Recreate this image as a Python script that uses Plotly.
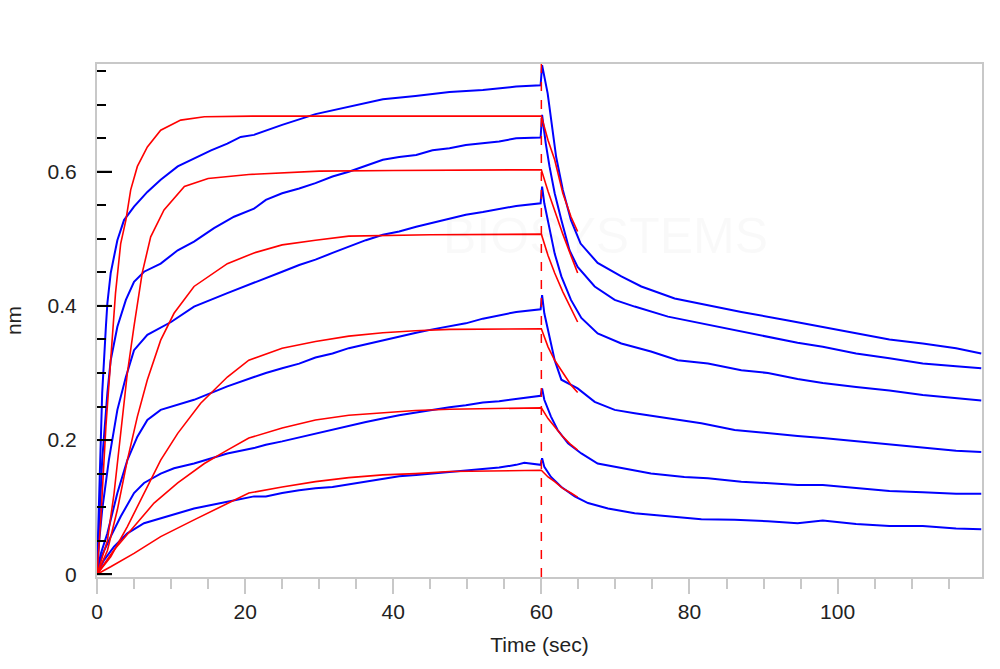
import plotly.graph_objects as go

# ---------------- data ----------------
STEP_TIME = 60  # association -> dissociation switch (sec)

# Measured (blue) sensorgrams: association phase
b1_at = [0, 0.3, 0.7, 1.2, 1.4, 1.85, 2.75, 3.65, 5.0, 6.8, 8.6, 10.9, 13.1, 15.4, 17.6, 19.4, 21.2, 25.0, 29.5, 34.0, 38.6, 43.0, 47.6, 52.1, 56.6, 59.9]
b1_av = [0.005, 0.12, 0.27, 0.369, 0.404, 0.449, 0.498, 0.528, 0.548, 0.570, 0.588, 0.608, 0.620, 0.632, 0.642, 0.652, 0.655, 0.670, 0.686, 0.697, 0.708, 0.713, 0.719, 0.722, 0.727, 0.729]
b1_dt = [60.1, 60.85, 61.5, 62.0, 62.9, 64.0, 65.3, 67.6, 70.8, 73.5, 78.0, 82.5, 87.0, 93.5, 98.0, 102.5, 107.0, 111.5, 116.0, 119.4]
b1_dv = [0.759, 0.717, 0.667, 0.622, 0.573, 0.528, 0.493, 0.464, 0.444, 0.429, 0.411, 0.401, 0.391, 0.378, 0.369, 0.359, 0.350, 0.344, 0.337, 0.329]

b2_at = [0, 0.3, 0.7, 1.4, 1.85, 2.75, 3.9, 5.0, 6.35, 8.6, 10.9, 13.1, 15.8, 18.5, 21.2, 22.8, 25.0, 27.3, 29.5, 31.8, 34.0, 36.3, 38.6, 40.8, 43.1, 45.3, 47.6, 49.8, 52.1, 54.3, 56.6, 59.9]
b2_av = [0.004, 0.08, 0.17, 0.270, 0.319, 0.369, 0.409, 0.436, 0.451, 0.463, 0.483, 0.496, 0.516, 0.533, 0.545, 0.558, 0.568, 0.575, 0.583, 0.593, 0.600, 0.609, 0.618, 0.622, 0.625, 0.632, 0.635, 0.640, 0.642, 0.645, 0.650, 0.651]
b2_dt = [60.1, 60.6, 61.1, 61.8, 62.7, 63.8, 64.9, 67.2, 69.9, 72.6, 77.1, 81.6, 86.1, 90.6, 94.6, 98.0, 102.5, 107.0, 111.5, 116.0, 119.4]
b2_dv = [0.685, 0.642, 0.608, 0.568, 0.528, 0.483, 0.458, 0.429, 0.409, 0.399, 0.384, 0.374, 0.364, 0.354, 0.345, 0.339, 0.329, 0.322, 0.314, 0.310, 0.307]

b3_at = [0, 0.3, 0.7, 1.6, 2.75, 3.9, 5.0, 6.8, 10.0, 13.1, 17.6, 21.2, 22.8, 25.0, 27.3, 29.5, 31.8, 34.0, 36.3, 38.6, 40.8, 43.1, 45.3, 47.6, 49.8, 52.1, 54.3, 56.6, 59.9]
b3_av = [0.003, 0.05, 0.096, 0.170, 0.245, 0.294, 0.334, 0.357, 0.376, 0.399, 0.419, 0.434, 0.441, 0.451, 0.461, 0.469, 0.479, 0.488, 0.498, 0.506, 0.511, 0.518, 0.524, 0.531, 0.536, 0.540, 0.544, 0.549, 0.553]
b3_dt = [60.1, 60.4, 61.1, 61.8, 62.7, 64.0, 65.4, 67.6, 70.8, 74.8, 78.4, 82.5, 87.0, 90.6, 94.6, 98.0, 102.5, 107.0, 111.5, 116.0, 119.4]
b3_dv = [0.578, 0.553, 0.518, 0.478, 0.444, 0.409, 0.382, 0.359, 0.344, 0.332, 0.319, 0.314, 0.304, 0.300, 0.291, 0.285, 0.279, 0.274, 0.267, 0.262, 0.259]

b4_at = [0, 0.5, 1.4, 2.75, 4.1, 5.45, 6.8, 8.6, 13.1, 17.6, 21.2, 22.8, 25.0, 27.3, 29.5, 31.8, 34.0, 36.3, 38.6, 40.8, 43.1, 45.3, 47.6, 49.8, 52.1, 54.3, 56.6, 59.9]
b4_av = [0.002, 0.03, 0.061, 0.121, 0.170, 0.205, 0.230, 0.245, 0.260, 0.280, 0.294, 0.300, 0.307, 0.314, 0.323, 0.329, 0.337, 0.343, 0.349, 0.355, 0.360, 0.365, 0.370, 0.374, 0.381, 0.386, 0.391, 0.395]
b4_dt = [60.1, 60.4, 61.1, 61.8, 62.7, 64.9, 67.2, 69.9, 72.6, 77.1, 81.6, 86.1, 90.6, 94.6, 98.0, 102.5, 107.0, 111.5, 116.0, 119.4]
b4_dv = [0.416, 0.389, 0.354, 0.319, 0.290, 0.277, 0.257, 0.245, 0.240, 0.232, 0.225, 0.215, 0.210, 0.206, 0.203, 0.198, 0.193, 0.189, 0.184, 0.182]

b5_at = [0, 0.7, 1.85, 3.2, 5.0, 6.35, 8.6, 10.4, 13.1, 17.6, 21.2, 22.8, 25.0, 27.3, 29.5, 31.8, 34.0, 36.3, 38.6, 40.8, 43.1, 45.3, 47.6, 49.8, 52.1, 54.3, 56.6, 59.9]
b5_av = [0.002, 0.029, 0.056, 0.086, 0.121, 0.136, 0.150, 0.158, 0.165, 0.180, 0.188, 0.193, 0.198, 0.204, 0.210, 0.216, 0.221, 0.227, 0.232, 0.237, 0.241, 0.245, 0.249, 0.252, 0.256, 0.258, 0.261, 0.266]
b5_dt = [60.1, 60.4, 61.3, 62.2, 63.6, 65.4, 67.6, 70.8, 74.8, 79.3, 82.5, 87.0, 94.6, 98.0, 102.5, 107.0, 111.5, 116.0, 119.4]
b5_dv = [0.277, 0.260, 0.235, 0.215, 0.195, 0.180, 0.165, 0.158, 0.150, 0.145, 0.143, 0.138, 0.133, 0.133, 0.128, 0.124, 0.122, 0.120, 0.120]

b6_at = [0, 0.95, 2.3, 4.1, 6.35, 9.5, 13.1, 17.6, 21.2, 22.8, 25.0, 27.3, 29.5, 31.8, 34.0, 36.3, 38.6, 40.8, 43.1, 45.3, 47.6, 49.8, 52.1, 54.3, 56.6, 57.7, 59.9]
b6_av = [0.001, 0.021, 0.041, 0.061, 0.076, 0.086, 0.098, 0.108, 0.116, 0.116, 0.121, 0.125, 0.128, 0.130, 0.134, 0.138, 0.143, 0.146, 0.148, 0.150, 0.153, 0.155, 0.156, 0.159, 0.163, 0.166, 0.163]
b6_dt = [60.1, 60.4, 61.3, 62.7, 64.5, 66.3, 69.0, 72.6, 77.1, 81.6, 86.1, 90.6, 94.6, 98.0, 102.5, 107.0, 111.5, 116.0, 119.4]
b6_dv = [0.173, 0.160, 0.145, 0.130, 0.116, 0.106, 0.098, 0.091, 0.086, 0.082, 0.081, 0.079, 0.076, 0.080, 0.075, 0.072, 0.072, 0.068, 0.067]

# Fitted (red) curves: association phase
r1_at = [0, 0.5, 1.2, 1.85, 2.5, 3.2, 3.9, 4.55, 5.45, 6.8, 8.6, 11.3, 14.5, 21.0, 30.0, 40.0, 50.0, 60.0]
r1_av = [0, 0.08, 0.22, 0.319, 0.419, 0.493, 0.528, 0.573, 0.608, 0.637, 0.662, 0.677, 0.682, 0.683, 0.683, 0.683, 0.683, 0.683]
r2_at = [0, 1.4, 2.3, 3.2, 4.1, 5.0, 6.1, 7.25, 9.05, 11.8, 15.0, 20.5, 30.0, 40.0, 50.0, 60.0]
r2_av = [0, 0.05, 0.12, 0.21, 0.30, 0.37, 0.449, 0.503, 0.543, 0.578, 0.590, 0.596, 0.601, 0.602, 0.602, 0.603]
r3_at = [0, 1.4, 2.75, 4.1, 5.45, 6.8, 8.6, 10.4, 13.1, 17.6, 21.2, 25.0, 29.5, 34.0, 45.0, 60.0]
r3_av = [0, 0.035, 0.096, 0.170, 0.235, 0.290, 0.349, 0.389, 0.429, 0.463, 0.479, 0.491, 0.498, 0.504, 0.506, 0.507]
r4_at = [0, 1.85, 4.1, 6.35, 8.6, 10.9, 14.0, 17.6, 20.5, 25.0, 29.5, 34.0, 38.6, 43.0, 47.6, 60.0]
r4_av = [0, 0.026, 0.071, 0.121, 0.170, 0.210, 0.255, 0.294, 0.319, 0.337, 0.347, 0.355, 0.360, 0.363, 0.365, 0.366]
r5_at = [0, 2.3, 5.0, 7.7, 10.9, 14.5, 17.6, 20.5, 25.0, 29.5, 34.0, 38.6, 43.0, 47.6, 60.0]
r5_av = [0, 0.036, 0.071, 0.106, 0.136, 0.165, 0.185, 0.203, 0.218, 0.230, 0.237, 0.241, 0.244, 0.246, 0.248]
r6_at = [0, 1.85, 5.0, 8.6, 13.1, 17.6, 20.5, 25.0, 29.5, 34.0, 38.6, 43.0, 47.6, 60.0]
r6_av = [0, 0.011, 0.031, 0.056, 0.081, 0.106, 0.121, 0.130, 0.138, 0.144, 0.148, 0.150, 0.153, 0.155]

# Fitted (red) curves: start of dissociation phase
r_dt = [60.9, 61.8, 62.9, 64.0, 64.9]
r1_dv = [0.647, 0.618, 0.568, 0.533, 0.511]
r2_dv = [0.571, 0.541, 0.507, 0.475, 0.449]
r3_dv = [0.475, 0.449, 0.421, 0.397, 0.376]
r4_dv = [0.339, 0.319, 0.300, 0.282, 0.271]
r5_dv = [0.232, 0.220, 0.205, 0.193, 0.185]
r6_dv = [0.145, 0.138, 0.128, 0.121, 0.115]

X_TICK_MAJOR = 20
X_TICK_MINOR = 5
Y_TICK_MAJOR = 0.2
Y_TICK_MINOR = 0.05
Y_MAJOR_TICKS = [0, 0.2, 0.4, 0.6]
X_RANGE = [0, 119.5]
Y_RANGE = [-0.0042, 0.7607]

blue_sets = [
    (b1_at, b1_av, b1_dt, b1_dv),
    (b2_at, b2_av, b2_dt, b2_dv),
    (b3_at, b3_av, b3_dt, b3_dv),
    (b4_at, b4_av, b4_dt, b4_dv),
    (b5_at, b5_av, b5_dt, b5_dv),
    (b6_at, b6_av, b6_dt, b6_dv),
]
red_sets = [
    (r1_at, r1_av, r1_dv),
    (r2_at, r2_av, r2_dv),
    (r3_at, r3_av, r3_dv),
    (r4_at, r4_av, r4_dv),
    (r5_at, r5_av, r5_dv),
    (r6_at, r6_av, r6_dv),
]

BLUE = "#0000FF"
RED = "#FF0000"
GRAY = "#c8c8c8"
FONT = "Liberation Sans, Arial, sans-serif"

fig = go.Figure()

for at, av, dt, dv in blue_sets:
    fig.add_trace(go.Scatter(x=at + dt, y=av + dv, mode="lines",
                             line=dict(color=BLUE, width=2), showlegend=False,
                             hoverinfo="skip"))

for at, av, dv in red_sets:
    fig.add_trace(go.Scatter(x=at + r_dt, y=av + dv, mode="lines",
                             line=dict(color=RED, width=1.6), showlegend=False,
                             hoverinfo="skip"))

# dashed vertical marker at the phase switch
fig.add_shape(type="line", xref="x", yref="paper", x0=STEP_TIME, x1=STEP_TIME,
              y0=0, y1=1, line=dict(color=RED, width=1.5, dash="dash"), layer="above")

# longer inward major ticks on the y axis (15 px from the axis line)
for v in Y_MAJOR_TICKS:
    fig.add_shape(type="line", xref="x", yref="y", xsizemode="pixel", xanchor=X_RANGE[0],
                  x0=0, x1=15, y0=v, y1=v, line=dict(color="black", width=2), layer="above")

# faint watermark
fig.add_annotation(text="BIOSYSTEMS", xref="paper", yref="paper", x=0.575, y=0.665,
                   showarrow=False, font=dict(family=FONT, size=50, color="rgba(0,0,0,0.025)"))

fig.update_layout(
    width=1000, height=669,
    margin=dict(l=97, r=18, t=64, b=92),
    paper_bgcolor="white", plot_bgcolor="white",
    font=dict(family=FONT, size=21, color="#222222"),
    xaxis=dict(
        range=X_RANGE, tick0=0, dtick=X_TICK_MAJOR,
        ticks="outside", ticklen=15, tickwidth=2, tickcolor=GRAY,
        minor=dict(tick0=0, dtick=X_TICK_MINOR, ticks="outside", ticklen=10,
                   tickwidth=2, tickcolor=GRAY, showgrid=False),
        showline=True, linecolor=GRAY, linewidth=2, mirror=True,
        showgrid=False, zeroline=False, automargin=False,
        title=dict(text="Time (sec)", standoff=15, font=dict(family=FONT, size=21, color="#222222")),
    ),
    yaxis=dict(
        range=Y_RANGE, tick0=0, dtick=Y_TICK_MAJOR,
        ticks="inside", ticklen=15, tickwidth=2, tickcolor="black",
        minor=dict(tick0=0, dtick=Y_TICK_MINOR, ticks="inside", ticklen=9,
                   tickwidth=2, tickcolor="black", showgrid=False),
        showline=True, linecolor=GRAY, linewidth=2, mirror=True,
        showgrid=False, zeroline=False, automargin=False,
        title=dict(text="nm", standoff=20, font=dict(family=FONT, size=21, color="#222222")),
        ticklabelstandoff=14,
    ),
)

fig.write_html("out.html")
